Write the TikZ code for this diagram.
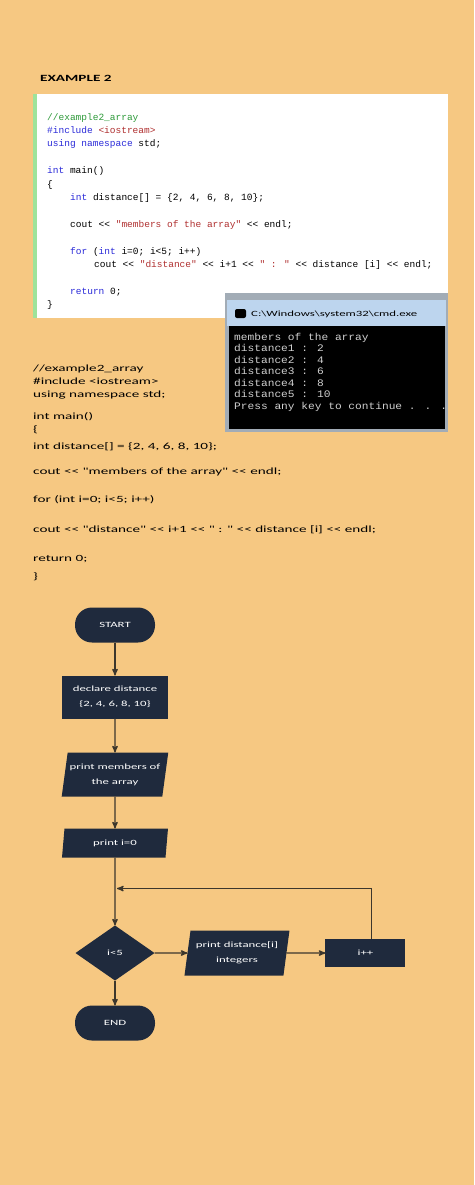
\documentclass[tikz,border=0pt]{standalone}
\usepackage{fontspec}
\setmainfont[Ligatures=TeXOff]{Carlito}
\newfontfamily\widefont[Ligatures=TeXOff, FakeStretch=1.6]{Carlito}
\newfontfamily\codefont[Ligatures=TeXOff]{Liberation Mono}
\newfontfamily\consolefont[Ligatures=TeXOff, FakeStretch=1.12]{Liberation Mono}
\usetikzlibrary{shapes.geometric, arrows, positioning}

\definecolor{pagebg}{HTML}{F6C882}
\definecolor{boxnavy}{HTML}{1F2A3D}
\definecolor{flowline}{HTML}{3D372C}
\definecolor{kwblue}{HTML}{2B2BD9}
\definecolor{strred}{HTML}{B03030}
\definecolor{cmtgreen}{HTML}{2E9A3A}
\definecolor{bargreen}{HTML}{9EE39A}
\definecolor{consoleframe}{HTML}{A2ACB6}
\definecolor{consolebar}{HTML}{BDD5EE}
\definecolor{consoletext}{HTML}{D0D0D0}

\newcommand{\codekw}[1]{\textcolor{kwblue}{#1}}
\newcommand{\codestr}[1]{\textcolor{strred}{#1}}

\tikzset{
  flowbox/.style={fill=boxnavy, text=white, font=\widefont\fontsize{8}{15}\selectfont, align=center, inner sep=2pt, outer sep=0pt},
  terminal/.style={flowbox, rounded corners=17pt, minimum width=80pt, minimum height=35pt},
  process/.style={flowbox, rectangle, minimum width=106pt, minimum height=43pt},
  io/.style={flowbox, trapezium, trapezium left angle=77, trapezium right angle=103, trapezium stretches body, minimum width=106pt, minimum height=44pt},
  decision/.style={flowbox, diamond, aspect=1.45, minimum width=79pt, minimum height=55pt, inner sep=0pt},
  flow/.style={->, >=stealth', draw=flowline, line width=1.3pt}
}

\begin{document}
\begin{tikzpicture}[x=1pt, y=-1pt]
  \useasboundingbox (0,0) rectangle (474,1185);
  \fill[pagebg] (0,0) rectangle (474,1185);

  \node[anchor=west, inner sep=0, font=\widefont\bfseries\fontsize{9.5}{11}\selectfont] (title) at (40,78) {EXAMPLE 2};

  % code window
  \fill[white] (35,94) rectangle (448,318);
  \fill[bargreen] (33,94) rectangle (37,318);
  \node[anchor=north west, inner sep=0, align=left, font=\codefont\fontsize{9.5}{13.4}\selectfont] (srccode) at (47,113) {%
    \textcolor{cmtgreen}{//example2\_array}\\
    \codekw{\#include} \codestr{<iostream>}\\
    \codekw{using namespace} std;\\[13.4pt]
    \codekw{int} main()\\
    \{\\
    \hspace*{23pt}\codekw{int} distance[] = \{2, 4, 6, 8, 10\};\\[13.4pt]
    \hspace*{23pt}cout << \codestr{"members of the array"} << endl;\\[13.4pt]
    \hspace*{23pt}\codekw{for} (\codekw{int} i=0; i<5; i++)\\
    \hspace*{47pt}cout << \codestr{"distance"} << i+1 << \codestr{" : "} << distance [i] << endl;\\[13.4pt]
    \hspace*{23pt}\codekw{return} 0;\\
    \}};

  % console window
  \fill[consoleframe] (225,293) rectangle (448,432);
  \fill[consolebar] (227,300) rectangle (446,326);
  \fill[black] (229,326) rectangle (445,429);
  \fill[black, rounded corners=2pt] (235,309) rectangle (246,318);
  \node[anchor=west, inner sep=0, font=\widefont\fontsize{8}{10}\selectfont] (cmdtitle) at (251,314) {C:\textbackslash Windows\textbackslash system32\textbackslash cmd.exe};
  \node[anchor=north west, inner sep=0, align=left, text=consoletext, font=\consolefont\fontsize{10}{11.5}\selectfont] (cmdout) at (234,333) {%
    members of the array\\
    distance1 : 2\\
    distance2 : 4\\
    distance3 : 6\\
    distance4 : 8\\
    distance5 : 10\\
    Press any key to continue . . .};

  % plain listing
  \node[anchor=north west, inner sep=0, align=left, font=\widefont\fontsize{9.5}{13}\selectfont] (plaincode) at (33,365) {%
    //example2\_array\\
    \#include <iostream>\\
    using namespace std;\\[9pt]
    int main()\\
    \{\\[4pt]
    int distance[] = \{2, 4, 6, 8, 10\};\\[12pt]
    cout << "members of the array" << endl;\\[15pt]
    for (int i=0; i<5; i++)\\[17pt]
    cout << "distance" << i+1 << " : " << distance [i] << endl;\\[16pt]
    return 0;\\[5pt]
    \}};

  % flowchart
  \node[terminal] (start) at (115,625) {START};
  \node[process]  (decl)     [below=33pt of start] {declare distance\\\{2, 4, 6, 8, 10\}};
  \node[io]       (printmem) [below=34pt of decl]  {print members of\\the array};
  \node[io, minimum height=29pt] (init) [below=32pt of printmem] {print i=0};
  \node[decision] (cond)     [below=68pt of init]  {i<5};
  \node[io, minimum width=105pt, minimum height=45pt] (printdist) [right=33pt of cond] {print distance[i]\\integers};
  \node[process, minimum width=80pt, minimum height=28pt] (incr) [right=39pt of printdist] {i++};
  \node[terminal] (stop)     [below=25pt of cond]  {END};
  \coordinate (join) at ([yshift=-31pt]init.south);

  \draw[flow] (start) -- (decl);
  \draw[flow] (decl) -- (printmem);
  \draw[flow] (printmem) -- (init);
  \draw[flow] (init) -- (cond);
  \draw[flow] (cond) -- (printdist);
  \draw[flow] (printdist) -- (incr);
  \draw[flow] ([xshift=6pt]incr.north) |- ([xshift=2pt]join);
  \draw[flow] (cond) -- (stop);
\end{tikzpicture}
\end{document}
